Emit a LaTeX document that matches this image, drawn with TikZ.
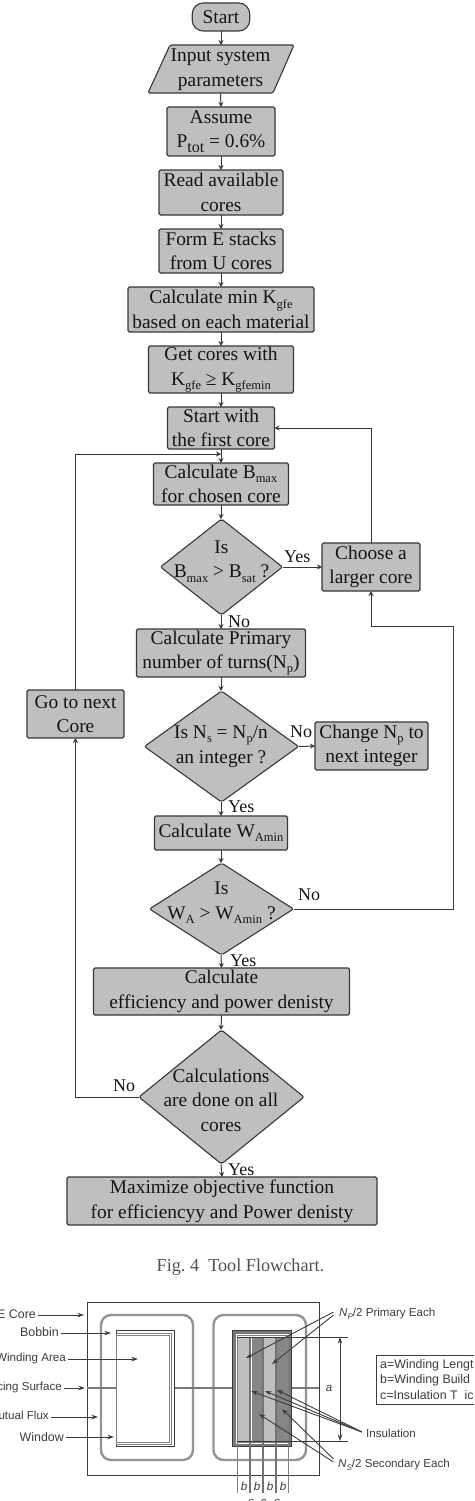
\documentclass[tikz,border=0pt]{standalone}
\usepackage{fontspec}
\setmainfont{Liberation Serif}
\newfontfamily\labelsans{Liberation Sans}
\usetikzlibrary{shapes.geometric,arrows.meta}
\newcommand{\sbs}[2][12.5]{\raisebox{-0.22em}{\fontsize{#1}{#1}\selectfont #2}}
\definecolor{boxgray}{HTML}{BFBFBF}
\definecolor{edge}{HTML}{383838}
\definecolor{ink}{HTML}{141414}
\definecolor{capink}{HTML}{505050}
\definecolor{figink}{HTML}{3C3C3C}
\tikzset{
  fbox/.style={draw=edge,fill=boxgray,line width=1.1pt,rounded corners=1.5pt,inner sep=0pt,outer sep=0pt,align=center,text=ink,font=\fontsize{19.4}{24.5}\selectfont},
  fdia/.style={diamond,draw=edge,fill=boxgray,line width=1.1pt,rounded corners=2pt,inner sep=0pt,outer sep=0pt},
  ftxt/.style={inner sep=0pt,align=center,text=ink,font=\fontsize{19.4}{24.5}\selectfont},
  flabel/.style={inner sep=0pt,text=ink,font=\fontsize{18}{20}\selectfont},
  conn/.style={draw=edge,line width=1pt},
  arr/.style={conn,-{Stealth[length=5pt,width=5pt]}},
  flab/.style={inner sep=1.5pt,text=figink,font=\labelsans\fontsize{11.6}{13}\selectfont},
  flabw/.style={flab,font=\labelsans\fontsize{12.4}{14}\selectfont},
  flabi/.style={flab,font=\labelsans\itshape\fontsize{11.6}{13}\selectfont},
  fline/.style={draw=figink,line width=.9pt},
  farr/.style={fline,-{Stealth[length=6.5pt,width=4.5pt]}},
  farrboth/.style={fline,{Stealth[length=6.5pt,width=4.5pt]}-{Stealth[length=6.5pt,width=4.5pt]}},
  bobbin/.style={draw=gray!85,line width=2.4pt,rounded corners=10pt},
  flux/.style={draw=gray!95!black,line width=1.1pt},
}
\begin{document}
\begin{tikzpicture}[x=1pt,y=-1pt]
\useasboundingbox (0,0) rectangle (474,1501);
\clip (0,0) rectangle (474,1501);
% flow nodes
\node[fbox,rounded corners=11pt,minimum width=57.5pt,minimum height=28pt] (start) at (221,17) {Start};
\filldraw[draw=edge,fill=boxgray,line width=1.1pt,rounded corners=1.5pt] (170,45) -- (294,45) -- (273,93) -- (148,93) -- cycle;
\node[ftxt,minimum width=120pt,minimum height=48pt] (input) at (220.5,69.5) {Input system\\parameters};
\node[fbox,minimum width=108pt,minimum height=49pt] (assume) at (221,131.5) {Assume\\P\sbs[16]{tot} = 0.6\%};
\node[fbox,minimum width=124pt,minimum height=45pt] (read) at (221,192.5) {Read available\\cores};
\node[fbox,minimum width=124pt,minimum height=44pt] (form) at (221,251) {Form E stacks\\from U cores};
\node[fbox,minimum width=186pt,minimum height=45pt] (calcmin) at (221,309.5) {Calculate min K\sbs{gfe}\\based on each material};
\node[fbox,minimum width=145pt,minimum height=47pt] (getc) at (221,369.5) {Get cores with\\K\sbs{gfe} ≥ K\sbs{gfemin}};
\node[fbox,minimum width=107pt,minimum height=42pt] (first) at (221,428) {Start with\\the first core};
\node[fbox,minimum width=135pt,minimum height=42pt] (bmax) at (221,484) {Calculate B\sbs{max}\\for chosen core};
\node[fdia,minimum width=122pt,minimum height=96pt] (dsat) at (221.5,567) {};
\node[ftxt] (dsattext) at (221.5,561.5) {Is\\B\sbs{max} > B\sbs{sat} ?};
\node[fbox,minimum width=98pt,minimum height=48pt] (larger) at (371,567) {Choose a\\larger core};
\node[fbox,minimum width=169pt,minimum height=48pt] (prim) at (221,653) {Calculate Primary\\number of turns(N\sbs{p})};
\node[fdia,minimum width=154pt,minimum height=111pt] (dint) at (221.5,746.5) {};
\node[ftxt] (dinttext) at (221,746.5) {Is N\sbs{s} = N\sbs{p}/n\\an integer ?};
\node[fbox,minimum width=113pt,minimum height=48pt] (change) at (371.5,746) {Change N\sbs{p} to\\next integer};
\node[fbox,minimum width=97pt,minimum height=48pt] (gonext) at (75.5,714) {Go to next\\Core};
\node[fbox,minimum width=133pt,minimum height=34pt] (wamin) at (221,833) {Calculate W\sbs{Amin}};
\node[fdia,minimum width=144pt,minimum height=92pt] (dwa) at (221.5,909) {};
\node[ftxt] (dwatext) at (221.5,903) {Is\\W\sbs{A} > W\sbs{Amin} ?};
\node[fbox,minimum width=256pt,minimum height=47pt] (eff) at (221.5,991.5) {Calculate\\efficiency and power denisty};
\node[fdia,minimum width=165pt,minimum height=134pt] (dall) at (221.5,1097) {};
\node[ftxt] (dalltext) at (221,1100) {Calculations\\are done on all\\cores};
\node[fbox,minimum width=310pt,minimum height=48pt] (maxi) at (222,1201) {Maximize objective function\\for efficiencyy and Power denisty};
% flow connectors
\coordinate (merge) at (221,454);
\coordinate (bendr) at (453,909);
\coordinate (bendt) at (453,626);
\draw[arr] (start.south) -- (221,45);
\draw[arr] (input.south) -- (assume.north);
\draw[arr] (assume.south) -- (read.north);
\draw[arr] (read.south) -- (form.north);
\draw[arr] (form.south) -- (calcmin.north);
\draw[arr] (calcmin.south) -- (getc.north);
\draw[arr] (getc.south) -- (first.north);
\draw[arr] (first.south) -- (bmax.north);
\draw[arr] (bmax.south) -- (221,519);
\draw[arr] (221,615) -- (prim.north);
\draw[arr] (prim.south) -- (221,691);
\draw[arr] (221,802) -- (wamin.north);
\draw[arr] (wamin.south) -- (221,863);
\draw[arr] (221,955) -- (eff.north);
\draw[arr] (eff.south) -- (221,1030);
\draw[arr] (221,1164) -- (maxi.north);
\draw[arr] (dsat.east) -- (larger.west);
\draw[arr] (dint.east) -- (change.west);
\draw[arr] (larger.north) |- (first.east);
\draw[arr] (gonext.north) |- (merge);
\draw[arr] (dall.west) -| (gonext.south);
\draw[arr] (dwa.east) -- (bendr) -- (bendt) -| (larger.south);
% flow labels
\node[flabel,anchor=west] (l1) at (284,557) {Yes};
\node[flabel,anchor=west] (l2) at (228,621.5) {No};
\node[flabel,anchor=west] (l3) at (290,732) {No};
\node[flabel,anchor=west] (l4) at (228,807) {Yes};
\node[flabel,anchor=west] (l5) at (298,895) {No};
\node[flabel,anchor=west] (l6) at (230,961) {Yes};
\node[flabel,anchor=west] (l7) at (113,1086) {No};
\node[flabel,anchor=west] (l8) at (228,1170) {Yes};
\node[inner sep=0pt,anchor=west,text=capink,font=\fontsize{18.2}{20}\selectfont] (cap) at (156.5,1267) {Fig.\ 4\ \ Tool Flowchart.};
% lower figure
\node[draw=figink,line width=1pt,inner sep=0pt,minimum width=232pt,minimum height=173pt] (core) at (203,1388.5) {};
\draw[bobbin] (101,1315) rectangle (193,1460);
\draw[bobbin] (213.5,1315) rectangle (306,1460);
\coordinate (cl) at (87,1388); \coordinate (cr) at (319,1388);
\coordinate (wla) at (116,1388); \coordinate (wlb) at (174,1388);
\coordinate (wra) at (232,1388); \coordinate (wrb) at (291,1388);
\draw[flux] (cl) -- (wla) (wlb) -- (wra) (wrb) -- (cr);
\node[draw=figink,fill=white,line width=1pt,inner sep=0pt,minimum width=58pt,minimum height=115.5pt] (winl) at (145,1388.5) {};
\draw[draw=gray,line width=.6pt] (116.5,1333.2) rectangle (171.5,1443.8);
\draw[draw=gray,line width=.6pt] (116.5,1335.2) rectangle (169,1441.8);
\node[draw=figink,fill=gray!95!black,line width=.8pt,inner sep=0pt,minimum width=59pt,minimum height=116.5pt] (winr) at (261.5,1388.5) {};
\draw[fill=white,draw=none] (236,1333.8) rectangle (289.2,1443.6);
\draw[fill=gray!70,draw=gray,line width=.5pt] (236.8,1335) rectangle (288.5,1442.4);
\draw[fill=white,draw=none] (237.5,1336) rectangle (288,1441.6);
\fill[gray!50] (238,1337) rectangle (249,1441);
\fill[gray!105!black] (251.5,1337) rectangle (262,1441);
\fill[gray!50] (264,1337) rectangle (275,1441);
\fill[gray!105!black] (277,1337) rectangle (287.5,1441);
\draw[draw=gray,line width=.8pt] (237.5,1441) -- (237.5,1493);
\draw[draw=gray!90!black,line width=1.5pt] (250,1337) -- (250,1493);
\draw[draw=gray!90!black,line width=1.7pt] (263,1337) -- (263,1493);
\draw[draw=gray!90!black,line width=1.5pt] (276,1337) -- (276,1493);
\draw[draw=gray,line width=.8pt] (288,1441) -- (288,1493);
\coordinate (topl) at (237,1337); \coordinate (topr) at (348,1337);
\coordinate (botl) at (237,1441); \coordinate (botr) at (348,1441);
\coordinate (dimt) at (340,1337); \coordinate (dimb) at (340,1441);
\draw[fline] (topl) -- (topr);
\draw[fline] (botl) -- (botr);
\draw[farrboth] (dimt) -- (dimb);
\node[flabi] (dima) at (329,1388) {a};
% left labels
\node[flabw,anchor=east] (ecore) at (37.5,1314.5) {E Core};
\node[flabw,anchor=east] (bobl) at (60.5,1332) {Bobbin};
\node[flab,anchor=east] (wind) at (67.5,1358) {Winding Area};
\node[flab,anchor=east] (surf) at (63.5,1387) {cing Surface};
\node[flab,anchor=east] (mutu) at (50.5,1415) {utual Flux};
\node[flabw,anchor=east] (wdw) at (65.5,1437) {Window};
\coordinate (ecoreend) at (84,1315);
\coordinate (bobend) at (111,1333);
\coordinate (windend) at (138,1359);
\coordinate (surfend) at (85,1388);
\coordinate (mutuend) at (98,1417);
\coordinate (wdwend) at (114,1437);
\draw[farr] (ecore.east |- ecoreend) -- (ecoreend);
\draw[farr] (bobl.east |- bobend) -- (bobend);
\draw[farr] (wind.east |- windend) -- (windend);
\draw[farr] (surf.east |- surfend) -- (surfend);
\draw[farr] (mutu.east |- mutuend) -- (mutuend);
\draw[farr] (wdw.east |- wdwend) -- (wdwend);
% right labels
\node[flab,anchor=west] (npl) at (337.5,1314) {\textit{N}\sbs[8]{\textit{P}}/2 Primary Each};
\node[flab,anchor=west] (ins) at (364.5,1433) {Insulation};
\node[flab,anchor=west] (nsl) at (336.5,1465) {\textit{N}\sbs[8]{\textit{S}}/2 Secondary Each};
\coordinate (npa) at (333.5,1312); \coordinate (npb) at (333.5,1315);
\coordinate (npc) at (246,1358); \coordinate (npd) at (272,1364);
\coordinate (insa) at (362,1432);
\coordinate (insb) at (251,1391); \coordinate (insc) at (265,1391); \coordinate (insd) at (277,1390);
\coordinate (nsa) at (333.5,1462); \coordinate (nsb) at (333.5,1459);
\coordinate (nsc) at (259,1414); \coordinate (nsd) at (282,1409);
\draw[farr] (npa) -- (npc);
\draw[farr] (npb) -- (npd);
\draw[farr] (insa) -- (insb);
\draw[farr] (insa) -- (insc);
\draw[farr] (insa) -- (insd);
\draw[farr] (nsa) -- (nsc);
\draw[farr] (nsb) -- (nsd);
% dimension letters
\node[flabi] (b1) at (244,1486) {b};
\node[flabi] (b2) at (257,1486) {b};
\node[flabi] (b3) at (270,1486) {b};
\node[flabi] (b4) at (283,1486) {b};
\node[flabi] (c1) at (251,1502) {c};
\node[flabi] (c2) at (263.5,1502) {c};
\node[flabi] (c3) at (277,1502) {c};
% legend
\node[draw=figink,line width=.8pt,inner sep=0pt,minimum width=120pt,minimum height=49pt] (legend) at (436,1379.5) {};
\node[flabw,anchor=west] (lega) at (378.5,1365) {a=Winding Lengt};
\node[flabw,anchor=west] (legb) at (378.5,1380) {b=Winding Build};
\node[flabw,anchor=west] (legc) at (378.5,1395) {c=Insulation T\ \ ic};
\end{tikzpicture}
\end{document}
